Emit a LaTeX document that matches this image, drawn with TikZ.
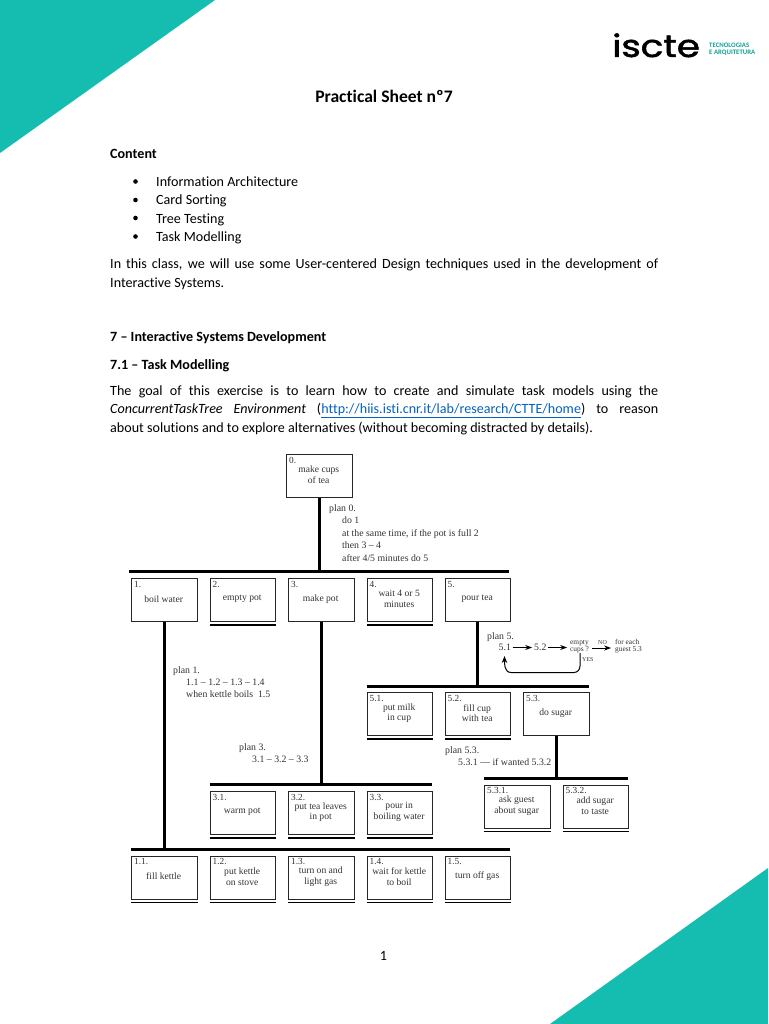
\documentclass[tikz,border=0pt]{standalone}
\usepackage{fontspec}
\usepackage{graphicx}
\setmainfont{Carlito}[Ligatures={NoCommon,TeX}]
\newfontfamily\serifdiag{Liberation Serif}
\newfontfamily\logofont[FakeBold=1.6]{Poppins}
\definecolor{teal1}{HTML}{14BDB0}
\definecolor{linkblue}{HTML}{0563C1}
\definecolor{inkdiag}{HTML}{333333}
\usetikzlibrary{arrows.meta}
\tikzset{
  x=1pt,y=-1pt,
  body/.style={anchor=base west,inner sep=0pt,font=\fontsize{14.1}{16}\selectfont,text=black},
  bodyb/.style={anchor=base west,inner sep=0pt,font=\fontsize{14.1}{16}\selectfont\bfseries,text=black},
  tbox/.style={draw=black!85,line width=1.4pt,anchor=north west,minimum width=65.5pt,minimum height=43pt,inner sep=0pt},
  stem/.style={line width=3pt,black},
  barl/.style={line width=3pt,black},
  under/.style={line width=1.6pt,black},
  bl/.style={anchor=base west,inner sep=0pt,font=\serifdiag\fontsize{9.3}{11}\selectfont,text=inkdiag},
  bt/.style={anchor=center,align=center,inner sep=0pt,font=\serifdiag\fontsize{9.6}{10.6}\selectfont,text=inkdiag},
  plan/.style={anchor=base west,inner sep=0pt,font=\serifdiag\fontsize{9.8}{12}\selectfont,text=inkdiag},
  tiny/.style={anchor=base west,inner sep=0pt,font=\serifdiag\fontsize{7.4}{7}\selectfont,text=inkdiag},
  arr/.style={line width=0.8pt,black,-{Stealth[length=7pt,width=5pt]}},
}
\newcommand{\taskbox}[6]{% name,x,y,label,text,offset
  \node[tbox] (#1) at (#2,#3) {};
  \node[bl] (#1l) at (#2+3,#3+9) {#4};
  \node[bt] (#1t) at (#2+32.7,#3+#6) {#5};
}
\newcommand{\uline}[1]{\draw[under] ([yshift=-2.6pt]#1.south west) -- ([yshift=-2.6pt]#1.south east);}
\newcommand{\just}[1]{\hbox to 548pt{#1}}
\begin{document}
\begin{tikzpicture}
\useasboundingbox (0,0) rectangle (768,1024);
\fill[white] (0,0) rectangle (768,1024);
\fill[teal1] (0,0) -- (215,0) -- (0,153) -- cycle;
\fill[teal1] (768,868) -- (768,1024) -- (550,1024) -- cycle;
% logo
\node[anchor=base west,inner sep=0pt,font=\logofont\fontsize{31}{31}\selectfont] (logo) at (612,57) {\scalebox{1.2}[1]{iscte}};
\node[anchor=north west,align=left,inner sep=0pt,text=teal1!85!black,font=\fontsize{6.8}{5.6}\selectfont\bfseries] (logot) at (709,43) {TECNOLOGIAS\\[1.2pt]E ARQUITETURA};
% heading
\node[anchor=base,inner sep=0pt,font=\fontsize{17.6}{19}\selectfont\bfseries] (title) at (384,102.5) {Practical Sheet nº7};
\node[bodyb] (content) at (110,158.5) {Content};
\foreach \y/\t/\n in {186.5/Information Architecture/a,205/Card Sorting/b,223/Tree Testing/c,241.5/Task Modelling/d}{
  \fill (135.5,\y-5) circle (2.3pt);
  \node[body] (li\n) at (156,\y) {\t};
}
\node[body] (p1a) at (110,268) {\just{In this class, we will use some User-centered Design techniques used in the development of}};
\node[body] (p1b) at (110,287) {Interactive Systems.};
\node[bodyb] (h7) at (110,341) {7 – Interactive Systems Development};
\node[bodyb] (h71) at (110,369) {7.1 – Task Modelling};
\node[body] (g1) at (110,395) {\just{The goal of this exercise is to learn how to create and simulate task models using the}};
\node[body] (g2) at (110,413.5) {\just{\textit{ConcurrentTaskTree Environment} (\textcolor{linkblue}{\underline{http://hiis.isti.cnr.it/lab/research/CTTE/home}}) to reason}};
\node[body] (g3) at (110,432) {about solutions and to explore alternatives (without becoming distracted by details).};
\node[anchor=base,inner sep=0pt,font=\fontsize{14.1}{16}\selectfont] (pg) at (383.5,960) {1};
% diagram
\taskbox{n0}{286}{454}{0.}{make cups\\of tea}{21}
\taskbox{n1}{131}{578}{1.}{boil water}{21}
\taskbox{n2}{209.5}{578}{2.}{empty pot}{21}
\taskbox{n3}{288}{578}{3.}{make pot}{21}
\taskbox{n4}{366.5}{578}{4.}{wait 4 or 5\\minutes}{21}
\taskbox{n5}{444.5}{578}{5.}{pour tea}{21}
\taskbox{n51}{366.5}{692}{5.1.}{put milk\\in cup}{21}
\taskbox{n52}{444.5}{692}{5.2.}{fill cup\\with tea}{21}
\taskbox{n53}{523}{692}{5.3.}{do sugar}{21}
\taskbox{n531}{484}{784.5}{5.3.1.}{ask guest\\about sugar}{21}
\taskbox{n532}{562.5}{784.5}{5.3.2.}{add sugar\\to taste}{21}
\taskbox{n31}{209.5}{791}{3.1.}{warm pot}{21}
\taskbox{n32}{288}{791}{3.2.}{put tea leaves\\in pot}{21}
\taskbox{n33}{366.5}{791}{3.3.}{pour in\\boiling water}{21}
\taskbox{n11}{131}{855.5}{1.1.}{fill kettle}{21}
\taskbox{n12}{209.5}{855.5}{1.2.}{put kettle\\on stove}{21}
\taskbox{n13}{288}{855.5}{1.3.}{turn on and\\light gas}{21}
\taskbox{n14}{366.5}{855.5}{1.4.}{wait for kettle\\to boil}{21}
\taskbox{n15}{444.5}{855.5}{1.5.}{turn off gas}{21}
\foreach \n in {n2,n4,n51,n52,n531,n532,n31,n32,n33,n11,n12,n13,n14,n15}{\uline{\n}}
% bars
\coordinate (b0l) at (129,571); \coordinate (b0r) at (509,571);
\coordinate (b5l) at (366.5,686); \coordinate (b5r) at (588.5,686);
\coordinate (b53l) at (484,778.5); \coordinate (b53r) at (628,778.5);
\coordinate (b3l) at (209.5,784.5); \coordinate (b3r) at (432,784.5);
\coordinate (b1l) at (131,849); \coordinate (b1r) at (510,849);
\draw[barl] (b0l) -- (b0r);
\draw[barl] (b5l) -- (b5r);
\draw[barl] (b53l) -- (b53r);
\draw[barl] (b3l) -- (b3r);
\draw[barl] (b1l) -- (b1r);
\draw[stem] (n0.south) -- (n0.south |- b0l);
\draw[stem] (n1.south) -- (n1.south |- b1l);
\draw[stem] (n3.south) -- (n3.south |- b3l);
\draw[stem] (n5.south) -- (n5.south |- b5l);
\draw[stem] (n53.south) -- (n53.south |- b53l);
% plans
\node[plan] (p0) at (329,511) {plan 0.};
\node[plan] (p0a) at (342,523) {do 1};
\node[plan] (p0b) at (342,536) {at the same time, if the pot is full 2};
\node[plan] (p0c) at (342,548.5) {then 3 – 4};
\node[plan] (p0d) at (342,561) {after 4/5 minutes do 5};
\node[plan] (p1) at (173,673) {plan 1.};
\node[plan] (p1a2) at (186,685) {1.1 – 1.2 – 1.3 – 1.4};
\node[plan] (p1b2) at (186,697) {when kettle boils\ \ 1.5};
\node[plan] (p3) at (239,750) {plan 3.};
\node[plan] (p3a) at (252,762.5) {3.1 – 3.2 – 3.3};
\node[plan] (p53) at (445,753) {plan 5.3.};
\node[plan] (p53a) at (458,765) {5.3.1 — if wanted 5.3.2};
\node[plan] (p5) at (487,639) {plan 5.};
\node[plan] (p51) at (498.5,650.5) {5.1};
\node[plan] (p52) at (534,650.5) {5.2};
\node[tiny] (pe1) at (570,644.5) {empty};
\node[tiny] (pe2) at (570,651.5) {cups ?};
\node[tiny,font=\serifdiag\fontsize{6}{7}\selectfont] (pno) at (598,644) {NO};
\node[tiny] (pf1) at (615,644.5) {for each};
\node[tiny] (pf2) at (615,651.5) {guest 5.3};
\node[tiny,font=\serifdiag\fontsize{6}{7}\selectfont] (pyes) at (582,661.5) {YES};
\draw[arr] (p51.base east) ++(1.5,-3) -- ++(19.5,0);
\draw[arr] (p52.base east) ++(1.5,-3) -- ++(19,0);
\draw[arr] (pe2.base east) ++(3,-3.5) -- ++(19,0);
\coordinate (lp1) at (580,653);
\coordinate (lp2) at (504.5,656);
\draw[line width=1pt,-{Stealth[length=7pt,width=5.5pt]}] (lp1) -- (580,666) to[out=-90,in=0] (574,672.5) -- (511,672.5) to[out=180,in=-90] (lp2);
\end{tikzpicture}
\end{document}
